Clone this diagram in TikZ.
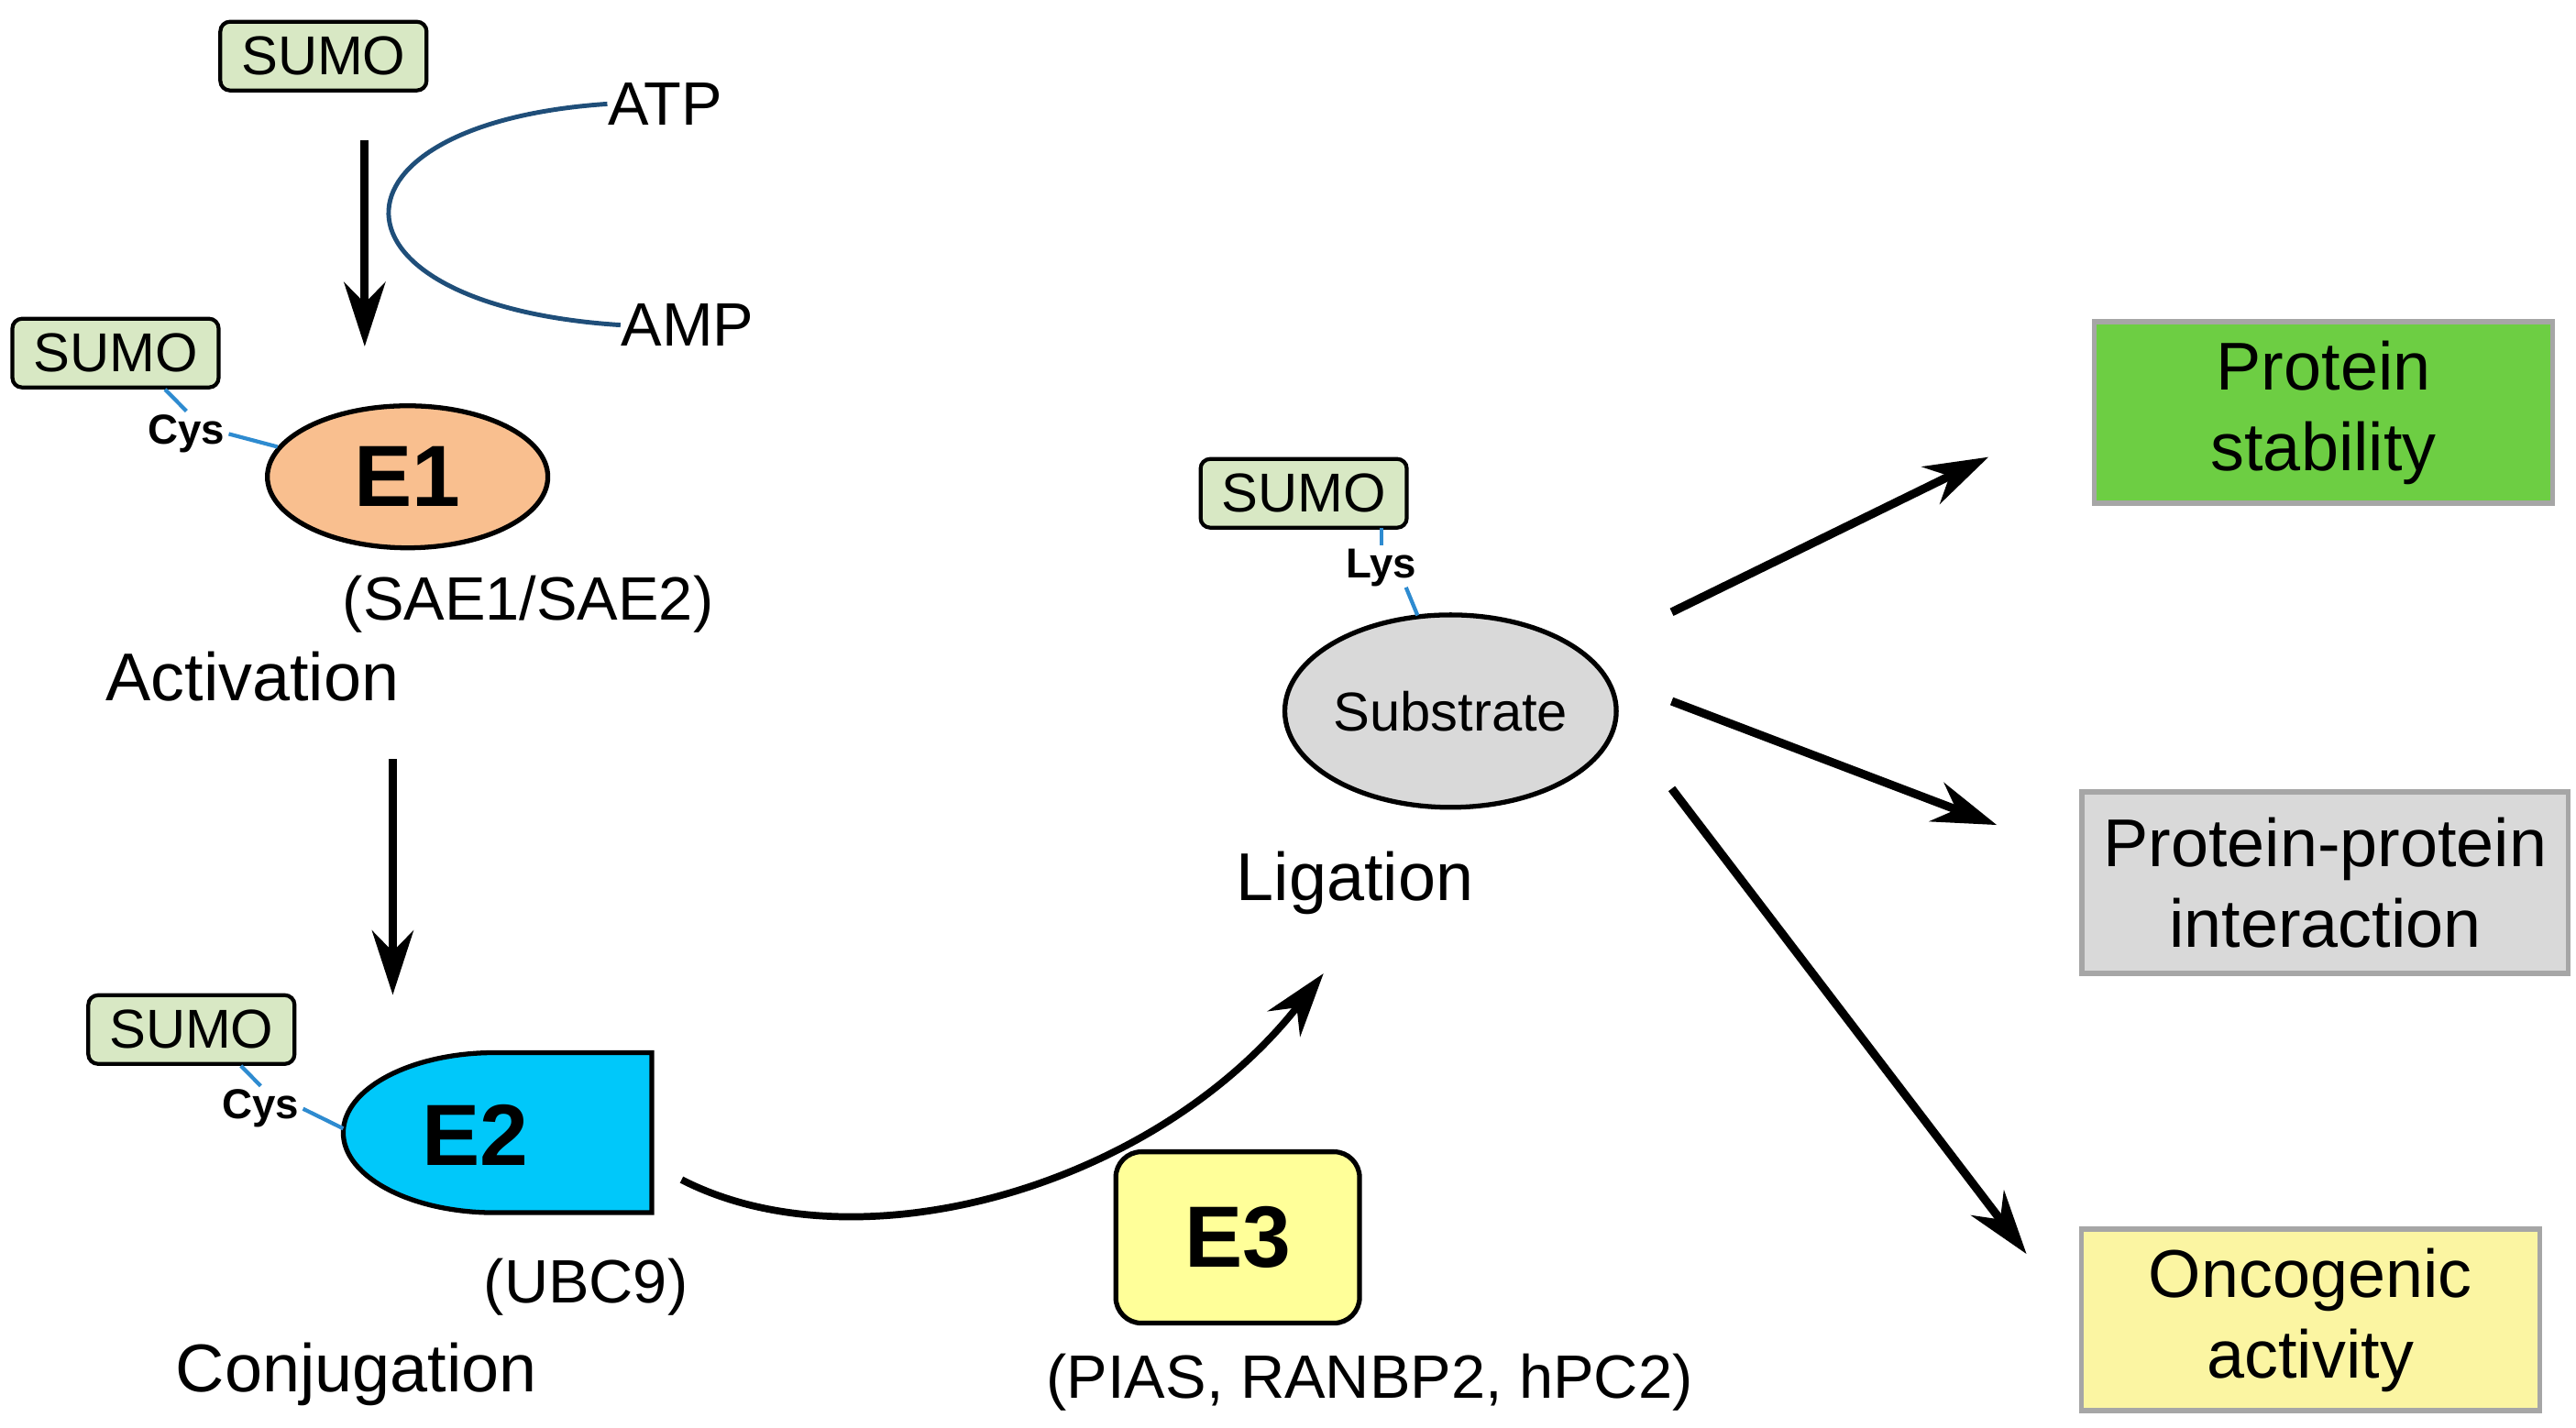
\documentclass[tikz,border=0pt]{standalone}
\usepackage{fontspec}
\setmainfont{Liberation Sans}
\usetikzlibrary{positioning,shapes.geometric,arrows.meta}
\definecolor{sumogreen}{HTML}{D8E8C4}
\definecolor{eonepeach}{HTML}{F9BF8F}
\definecolor{etwocyan}{HTML}{00C8FA}
\definecolor{ethreeyellow}{HTML}{FFFF99}
\definecolor{stabgreen}{HTML}{6DCE43}
\definecolor{boxgray}{HTML}{D9D9D9}
\definecolor{oncoyellow}{HTML}{FBF5A2}
\definecolor{curveblue}{HTML}{1F4E79}
\definecolor{linkblue}{HTML}{2E8BD0}
\tikzset{
  sumo/.style={draw=black,line width=1.2pt,fill=sumogreen,rounded corners=3pt,
    minimum width=2.25cm,minimum height=0.75cm,inner sep=0pt,font=\fontsize{17}{17}\selectfont},
  site/.style={font=\bfseries\fontsize{13}{13}\selectfont,inner sep=1pt},
  link/.style={linkblue,line width=1.2pt},
  note/.style={font=\fontsize{19}{19}\selectfont,inner sep=0pt},
  stage/.style={font=\fontsize{21}{21}\selectfont,inner sep=0pt},
  flow/.style={-{Stealth[length=7mm,width=4.5mm]},line width=2.6pt},
  effect/.style={draw=gray!70,line width=1.5pt,minimum width=5cm,minimum height=1.98cm,
    align=center,font=\fontsize{21}{25}\selectfont},
}
\begin{document}
\begin{tikzpicture}[x=0.018cm,y=-0.018cm]
\useasboundingbox (0,0) rectangle (1561,865);

% activation
\node[sumo] (sumoA) at (196,34) {SUMO};
\coordinate (arrA) at (221,85);
\coordinate (arrB) at (221,210);
\draw[flow] (arrA) -- (arrB);
\node[note,anchor=west] (atp) at (368,63) {ATP};
\node[note,anchor=west] (amp) at (376,197) {AMP};
\draw[curveblue,line width=1.4pt] (atp.west) .. controls (190,75) and (190,185) .. (amp.west);

\node[sumo] (sumoB) at (70,214) {SUMO};
\node[site] (cysA) at (113,263) {Cys};
\node[ellipse,draw,line width=1.5pt,fill=eonepeach,minimum width=3.06cm,minimum height=1.55cm,
  font=\bfseries\fontsize{27}{27}\selectfont] (eone) at (247,289) {E1};
\draw[link] (100,236) -- (cysA.north);
\draw[link] (cysA.east) -- (eone.167);
\node[note] (sae) at (320,366) {(SAE1/SAE2)};
\node[stage] (act) at (153,410) {Activation};
\coordinate (arrC) at (238,460);
\coordinate (arrD) at (238,603);
\draw[flow] (arrC) -- (arrD);

% conjugation
\node[sumo] (sumoC) at (116,624) {SUMO};
\node[site] (cysB) at (158,672) {Cys};
\draw[fill=etwocyan,line width=1.5pt] (395,638) -- (300,638) arc[start angle=270,end angle=90,x radius=92,y radius=48.5] -- (395,735) -- cycle;
\node[font=\bfseries\fontsize{27}{27}\selectfont] (etwo) at (288,688) {E2};
\coordinate (etwoL) at (208,684);
\draw[link] (146,646) -- (cysB.north);
\draw[link] (cysB.east) -- (etwoL);
\node[note] (ubc) at (355,780) {(UBC9)};
\node[stage] (conj) at (216,833) {Conjugation};

% ligation
\node[draw,line width=1.5pt,fill=ethreeyellow,rounded corners=8pt,minimum width=2.66cm,minimum height=1.87cm,
  font=\bfseries\fontsize{27}{27}\selectfont] (ethree) at (750,750) {E3};
\node[note] (pias) at (830,838) {(PIAS, RANBP2, hPC2)};
\coordinate (ligA) at (413,715);
\coordinate (ligB) at (802,590);
\draw[flow,line width=2.2pt] (ligA) .. controls (520,770) and (700,720) .. (ligB);

\node[sumo] (sumoD) at (790,299) {SUMO};
\node[site] (lys) at (837,344) {Lys};
\node[ellipse,draw,line width=1.5pt,fill=boxgray,minimum width=3.1cm,minimum height=2.1cm,
  inner sep=0pt,font=\fontsize{17}{17}\selectfont] (subs) at (879,431) {Substrate};
\draw[link] (837,320) -- (lys.north);
\draw[link] (852,356) -- (859,373);
\node[stage] (lig) at (821,535) {Ligation};

% effects
\node[effect,fill=stabgreen] (stab) at (1408,250) {Protein\\stability};
\node[effect,fill=boxgray,minimum width=5.31cm] (ppi) at (1409,535) {Protein-protein\\interaction};
\node[effect,fill=oncoyellow] (onco) at (1400,800) {Oncogenic\\activity};
\coordinate (oA) at (1013,371);
\coordinate (oB) at (1013,425);
\coordinate (oC) at (1013,478);
\coordinate (tA) at (1205,277);
\coordinate (tB) at (1210,500);
\coordinate (tC) at (1228,760);
\draw[flow] (oA) -- (tA);
\draw[flow] (oB) -- (tB);
\draw[flow] (oC) -- (tC);
\end{tikzpicture}
\end{document}
